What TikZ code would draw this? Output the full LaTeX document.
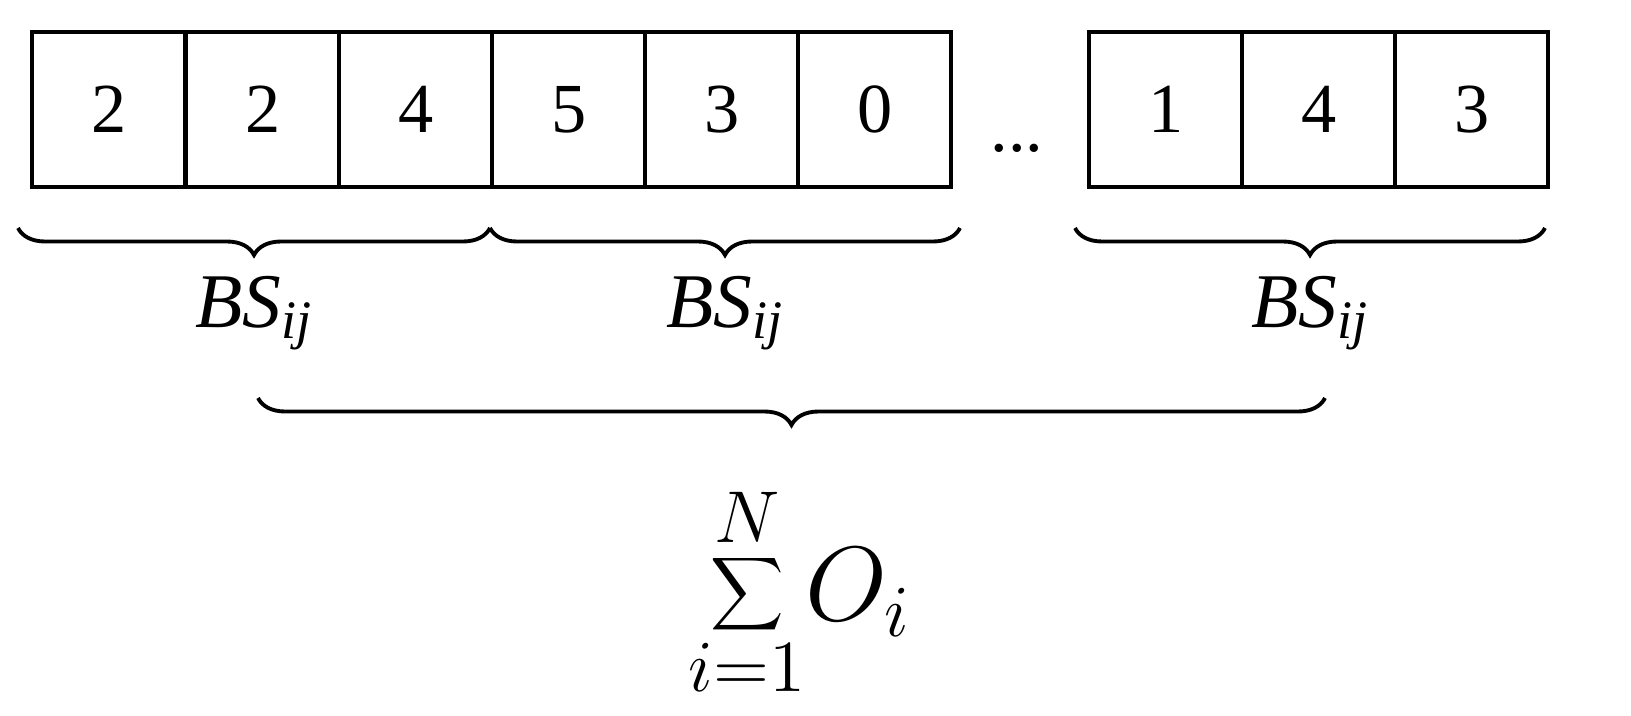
\documentclass[tikz,border=0pt]{standalone}
\usepackage{fontspec}
\setmainfont{Liberation Serif}
\usetikzlibrary{decorations.pathreplacing}
\begin{document}
\begin{tikzpicture}[x=0.01cm,y=-0.01cm,
  cell/.style={draw,line width=1.2pt,minimum width=1.53cm,minimum height=1.55cm,anchor=north west,inner sep=0pt,font=\fontsize{20}{24}\selectfont},
  br/.style={decorate,decoration={brace,mirror,amplitude=0.27cm},line width=1.1pt},
  lab/.style={font=\fontsize{22}{26}\selectfont\itshape}]
\useasboundingbox (0,0) rectangle (1631,716);
\foreach \v/\x [count=\i] in {2/30,2/184,4/337,5/490,3/643,0/796,1/1087,4/1240,3/1393}
  \node[cell] (c\i) at (\x,30) {\v};
\node[font=\fontsize{20}{24}\selectfont] (dots) at (1017,148) {...};
\coordinate (a1) at (18,228); \coordinate (a2) at (490,228);
\coordinate (a3) at (960,228); \coordinate (a4) at (1075,228); \coordinate (a5) at (1545,228);
\draw[br] (a1) -- (a2) node[midway,below=0.35cm,lab] (l1) {BS\textsubscript{ij}};
\draw[br] (a2) -- (a3) node[midway,below=0.35cm,lab] (l2) {BS\textsubscript{ij}};
\draw[br] (a4) -- (a5) node[midway,below=0.35cm,lab] (l3) {BS\textsubscript{ij}};
\coordinate (b1) at (258,398); \coordinate (b2) at (1325,398);
\draw[br] (b1) -- (b2);
\node[font=\fontsize{22}{26}\selectfont,scale=1.45] (s) at (800,592) {$\displaystyle\sum_{i=1}^{N}\! O_i$};
\end{tikzpicture}
\end{document}
